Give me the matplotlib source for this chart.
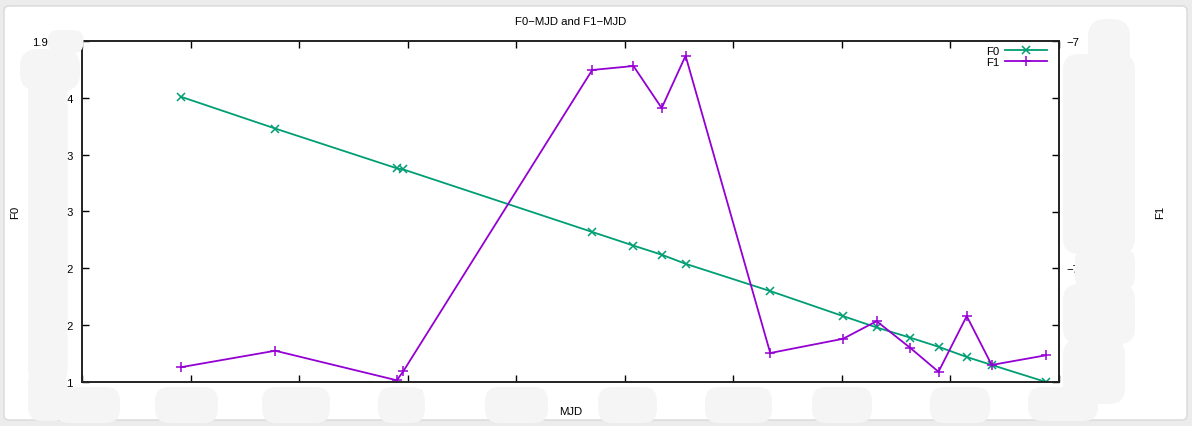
import matplotlib
matplotlib.use("Agg")
import matplotlib.pyplot as plt
import matplotlib.patches as mpatches
from matplotlib.transforms import IdentityTransform

plt.rcParams['font.family'] = ['Liberation Sans', 'DejaVu Sans']

W, H = 1192, 427
FS = 8.2

# timing solution points
mjd = [58091, 58178, 58290, 58296, 58470, 58508, 58534, 58556,
       58634, 58701, 58732, 58763, 58789, 58815, 58838, 58888]
f0 = [1.9631351, 1.9631323, 1.9631288, 1.9631287, 1.9631232, 1.9631220,
      1.9631212, 1.9631204, 1.9631180, 1.9631158, 1.9631148, 1.9631139,
      1.9631131, 1.9631122, 1.9631115, 1.9631100]
f1 = [-7.574, -7.545, -7.597, -7.581, -7.051, -7.044, -7.118, -7.026,
      -7.549, -7.524, -7.493, -7.540, -7.582, -7.484, -7.570, -7.553]

mjd_ticks = list(range(58000, 58901, 100))
f0_ticks = [1.963110, 1.963115, 1.963120, 1.963125, 1.963130, 1.963135, 1.963140]
f0_tick_labels = ["1.96311", "1.96312", "1.96312", "1.96313", "1.96313", "1.96314", "1.96314"]
f1_ticks = [-7.6, -7.5, -7.4, -7.3, -7.2, -7.1, -7.0]
f1_tick_labels = ["\u22127.6", "\u22127.5", "\u22127.4", "\u22127.3", "\u22127.2", "\u22127.1", "\u22127"]

# blurred patches over the screenshot (x0, y0, x1, y1, radius) in pixels, y from top
smudges = [
    (48, 31, 83.5, 54, 10), (20, 50, 80, 92, 18), (28, 60, 67.5, 385, 14),
    (28, 370, 67, 422, 14), (55, 388, 120, 424, 14),
    (155, 388, 218, 424, 14), (262, 388, 330, 424, 14), (378, 388, 425, 424, 14),
    (485, 388, 548, 424, 14), (598, 388, 657, 424, 14), (705, 388, 772, 424, 14),
    (812, 388, 872, 424, 14), (930, 388, 990, 424, 14), (1028, 388, 1098, 422, 14),
    (1088, 20, 1130, 75, 18), (1063, 55, 1135, 255, 16), (1075, 250, 1135, 290, 12),
    (1063, 285, 1135, 345, 16), (1063, 340, 1125, 405, 16),
]

fig = plt.figure(figsize=(W / 100, H / 100), dpi=100, facecolor='#ececec')

card = mpatches.FancyBboxPatch((4, H - 421), 1183, 414,
                               boxstyle="round,pad=0,rounding_size=5",
                               transform=IdentityTransform(), fc='white',
                               ec='#d9d9d9', lw=1, zorder=-5)
fig.add_artist(card)

for x0, y0, x1, y1, r in smudges:
    p = mpatches.FancyBboxPatch((x0, H - y1), x1 - x0, y1 - y0,
                                boxstyle=f"round,pad=0,rounding_size={r}",
                                transform=IdentityTransform(), fc='#f5f5f5',
                                ec='none', zorder=5)
    fig.add_artist(p)

ax = fig.add_axes([82 / W, 1 - 383 / H, (1059 - 82) / W, (383 - 42) / H])
ax.set_facecolor('none')
ax2 = ax.twinx()

l0, = ax.plot(mjd, f0, color='#009e73', marker='x', ms=5.5, mew=1.1, lw=1.3, label='F0')
l1, = ax2.plot(mjd, f1, color='#9400d3', marker='+', ms=6.5, mew=1.1, lw=1.3, label='F1')

ax.set_xlim(58000, 58900)
ax.set_ylim(1.963110, 1.963140)
ax2.set_ylim(-7.6, -7.0)

ax.set_xticks(mjd_ticks)
ax.set_xticklabels([str(t) for t in mjd_ticks])
ax.set_yticks(f0_ticks)
ax.set_yticklabels(f0_tick_labels)
ax2.set_yticks(f1_ticks)
ax2.set_yticklabels(f1_tick_labels)

ax.tick_params(axis='x', direction='in', top=True, length=5, width=1, labelsize=FS, pad=5)
ax.tick_params(axis='y', direction='in', length=5, width=1, labelsize=FS, pad=6)
ax2.tick_params(axis='y', direction='in', length=5, width=1, labelsize=FS, pad=5)

for a in (ax, ax2):
    for s in a.spines.values():
        s.set_linewidth(1.2)
        s.set_color('#222222')

ax.set_xlabel('MJD', fontsize=FS)
ax.xaxis.set_label_coords(0.5, (383 - 407) / 341)
ax.set_ylabel('F0', fontsize=FS)
ax.yaxis.set_label_coords((20 - 82) / 977, 0.5)
ax2.set_ylabel('F1', fontsize=FS)
ax2.yaxis.set_label_coords((1155 - 82) / 977, 0.5)

fig.text(571 / W, 1 - 22 / H, "F0\u2212MJD and F1\u2212MJD", ha='center', va='center', fontsize=FS)

ax2.legend(handles=[l0, l1], loc='upper right', bbox_to_anchor=(1047 / W, 1 - 47 / H),
           bbox_transform=fig.transFigure, frameon=False, markerfirst=False,
           fontsize=FS, handlelength=3.7, handletextpad=0.5, labelspacing=0.1,
           borderpad=0, borderaxespad=0)

fig.savefig('out.png', dpi=100, facecolor=fig.get_facecolor())
